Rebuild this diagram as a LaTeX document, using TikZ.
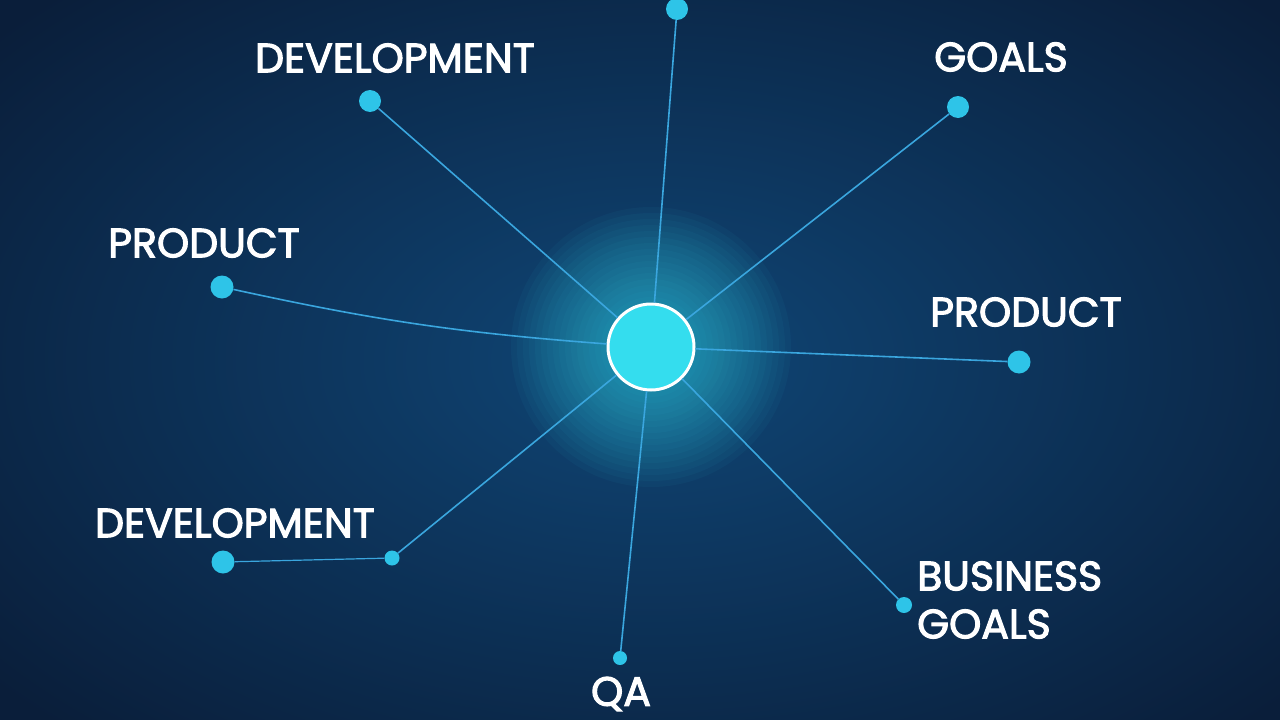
\documentclass[tikz,border=0pt]{standalone}
\usepackage{fontspec}
\setmainfont{Poppins}
\newfontfamily\lblfont{Poppins}[FakeBold=2.6]
\definecolor{bgin}{HTML}{0F4676}
\definecolor{bgout}{HTML}{0A1E3A}
\definecolor{linec}{HTML}{3AA6DE}
\definecolor{dotc}{HTML}{2EC4E8}
\definecolor{hubc}{HTML}{34DDEE}
\tikzset{
  link/.style={draw=linec, line width=1.6pt},
  dot/.style={circle, fill=dotc, inner sep=0pt, minimum size=#1},
  lbl/.style={text=white, font=\fontsize{41}{48}\lblfont, inner sep=0pt},
  hub/.style={circle, fill=hubc, draw=white, line width=3pt, minimum size=86pt, inner sep=0pt},
}
\begin{document}
\begin{tikzpicture}[x=1pt,y=-1pt]
\useasboundingbox (0,0) rectangle (1280,720);
\shade[inner color=bgin, outer color=bgout] (-200,-150) rectangle (1500,870);
% glow around hub
\foreach \r in {140,134,...,50}{
  \fill[hubc, opacity=0.04] (651,347) circle (\r);
}
% dots
\node[dot=22pt] (top) at (677,9) {};
\node[dot=22pt] (devT) at (370,101) {};
\node[dot=22pt] (goalsT) at (958,107) {};
\node[dot=23pt] (prodL) at (222,287) {};
\node[dot=23pt] (prodR) at (1019,362) {};
\node[dot=23pt] (devB) at (223,562) {};
\node[dot=15pt] (devBs) at (392,558) {};
\node[dot=14pt] (qa) at (620,658) {};
\node[dot=16pt] (bus) at (904,605) {};
\node[hub] (hub) at (651,347) {};
% links
\draw[link] (hub) -- (top);
\draw[link] (hub) -- (devT);
\draw[link] (hub) -- (goalsT);
\draw[link] (hub) to[bend left=4] (prodL);
\draw[link] (hub) -- (prodR);
\draw[link] (hub) -- (devBs);
\draw[link, line width=1.2pt] (devBs) -- (devB);
\draw[link] (hub) -- (qa);
\draw[link] (hub) -- (bus);
% labels
\node[lbl] (l1) at (395,58) {DEVELOPMENT};
\node[lbl] (l2) at (1001,57) {GOALS};
\node[lbl] (l3) at (204,243) {PRODUCT};
\node[lbl] (l4) at (1026,312) {PRODUCT};
\node[lbl] (l5) at (235,523) {DEVELOPMENT};
\node[lbl, anchor=west] (l6) at (917,576) {BUSINESS};
\node[lbl, anchor=west] (l7) at (917,624) {GOALS};
\node[lbl] (l8) at (621,694) {QA};
\end{tikzpicture}
\end{document}
